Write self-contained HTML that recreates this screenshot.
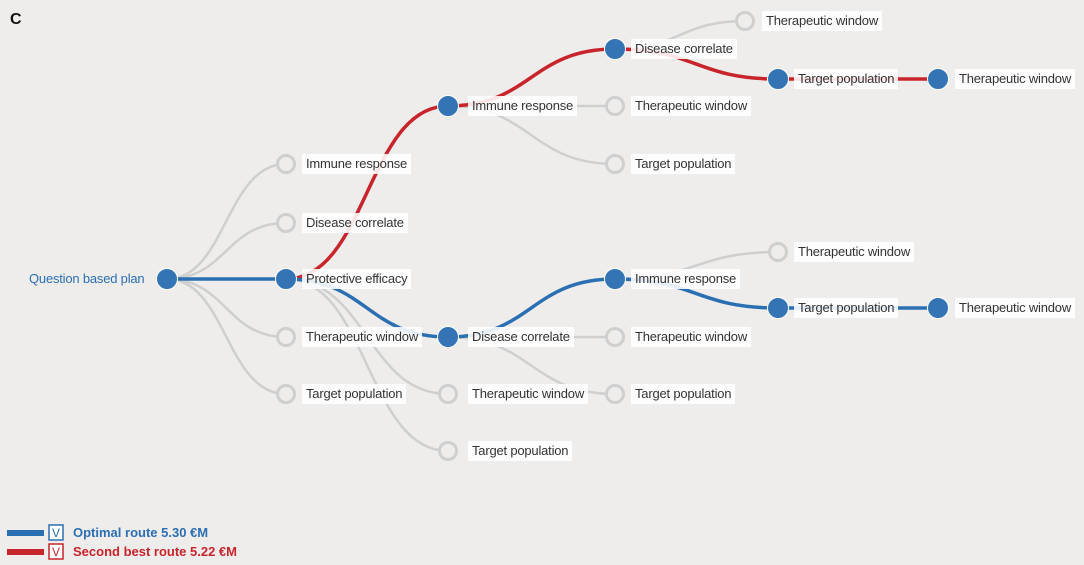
<!DOCTYPE html>
<html><head><meta charset="utf-8"><style>
html,body{margin:0;padding:0}
body{width:1084px;height:565px;background:#eeedeb;position:relative;overflow:hidden;font-family:"Liberation Sans",sans-serif}
.l{position:absolute;background:rgba(255,255,255,0.88);color:#333;font-size:13px;line-height:20px;height:20px;padding:0 4px;letter-spacing:-0.2px;white-space:nowrap;transform:translateY(-50%)}
svg{position:absolute;left:0;top:0}
</style></head><body>
<svg width="1084" height="565">
<g fill="none" stroke="#cfcfcf" stroke-width="2.5">
<path d="M167 279 C226 279 226 164 286 164"/>
<path d="M167 279 C226 279 226 223 286 223"/>
<path d="M167 279 C226 279 226 337 286 337"/>
<path d="M167 279 C226 279 226 394 286 394"/>
<path d="M286 279 C367 279 367 394 448 394"/>
<path d="M286 279 C367 279 367 451 448 451"/>
<path d="M448 106 C531 106 531 106 615 106"/>
<path d="M448 106 C531 106 531 164 615 164"/>
<path d="M448 337 C531 337 531 337 615 337"/>
<path d="M448 337 C531 337 531 394 615 394"/>
<path d="M615 49 C680 49 680 21 745 21"/>
<path d="M615 279 C696 279 696 252 778 252"/>
</g>
<g fill="none" stroke="#c8242b" stroke-width="3.5">
<path d="M286 279 C367 279 367 106 448 106"/>
<path d="M448 106 C531 106 531 49 615 49"/>
<path d="M615 49 C696 49 696 79 778 79"/>
<path d="M778 79 L938 79"/>
</g>
<g fill="none" stroke="#2b6fb3" stroke-width="3.5">
<path d="M167 279 L286 279"/>
<path d="M286 279 C367 279 367 337 448 337"/>
<path d="M448 337 C531 337 531 279 615 279"/>
<path d="M615 279 C696 279 696 308 778 308"/>
<path d="M778 308 L938 308"/>
</g>
<g fill="#eeedeb" stroke="#cfcfcf" stroke-width="3">
<circle cx="286" cy="164" r="8.5"/><circle cx="286" cy="223" r="8.5"/><circle cx="286" cy="337" r="8.5"/><circle cx="286" cy="394" r="8.5"/>
<circle cx="448" cy="394" r="8.5"/><circle cx="448" cy="451" r="8.5"/>
<circle cx="615" cy="106" r="8.5"/><circle cx="615" cy="164" r="8.5"/><circle cx="615" cy="337" r="8.5"/><circle cx="615" cy="394" r="8.5"/>
<circle cx="745" cy="21" r="8.5"/><circle cx="778" cy="252" r="8.5"/>
</g>
<g fill="#3474b5" stroke="#ffffff" stroke-width="1">
<circle cx="167" cy="279" r="10.5"/><circle cx="286" cy="279" r="10.5"/>
<circle cx="448" cy="106" r="10.5"/><circle cx="448" cy="337" r="10.5"/>
<circle cx="615" cy="49" r="10.5"/><circle cx="615" cy="279" r="10.5"/>
<circle cx="778" cy="79" r="10.5"/><circle cx="778" cy="308" r="10.5"/>
<circle cx="938" cy="79" r="10.5"/><circle cx="938" cy="308" r="10.5"/>
</g>
<rect x="7" y="530" width="37" height="6" fill="#2b6fb3"/>
<rect x="7" y="549" width="37" height="6" fill="#c8242b"/>
<rect x="49" y="525" width="14" height="15" fill="#fff" stroke="#2b6fb3" stroke-width="1.5"/>
<rect x="49" y="544" width="14" height="15" fill="#fff" stroke="#c8242b" stroke-width="1.5"/>
<text x="56" y="537" text-anchor="middle" font-size="12" fill="#2b6fb3" font-family="Liberation Sans">V</text>
<text x="56" y="556" text-anchor="middle" font-size="12" fill="#c8242b" font-family="Liberation Sans">V</text>
<text x="73" y="537" font-size="13" font-weight="600" fill="#2b6fb3" font-family="Liberation Sans">Optimal route 5.30 €M</text>
<text x="73" y="556" font-size="13" font-weight="600" fill="#c8242b" font-family="Liberation Sans">Second best route 5.22 €M</text>
<text x="10" y="24" font-size="16" font-weight="bold" fill="#111" font-family="Liberation Sans">C</text>
</svg>
<div class="l" style="left:25px;top:279px;background:none;color:#2b6fb3">Question based plan</div>
<div class="l" style="left:302px;top:164px">Immune response</div>
<div class="l" style="left:302px;top:223px">Disease correlate</div>
<div class="l" style="left:302px;top:279px">Protective efficacy</div>
<div class="l" style="left:302px;top:337px">Therapeutic window</div>
<div class="l" style="left:302px;top:394px">Target population</div>
<div class="l" style="left:468px;top:106px">Immune response</div>
<div class="l" style="left:468px;top:337px">Disease correlate</div>
<div class="l" style="left:468px;top:394px">Therapeutic window</div>
<div class="l" style="left:468px;top:451px">Target population</div>
<div class="l" style="left:631px;top:49px">Disease correlate</div>
<div class="l" style="left:631px;top:106px">Therapeutic window</div>
<div class="l" style="left:631px;top:164px">Target population</div>
<div class="l" style="left:631px;top:279px">Immune response</div>
<div class="l" style="left:631px;top:337px">Therapeutic window</div>
<div class="l" style="left:631px;top:394px">Target population</div>
<div class="l" style="left:762px;top:21px">Therapeutic window</div>
<div class="l" style="left:794px;top:79px">Target population</div>
<div class="l" style="left:794px;top:252px">Therapeutic window</div>
<div class="l" style="left:794px;top:308px">Target population</div>
<div class="l" style="left:955px;top:79px">Therapeutic window</div>
<div class="l" style="left:955px;top:308px">Therapeutic window</div>
</body></html>
